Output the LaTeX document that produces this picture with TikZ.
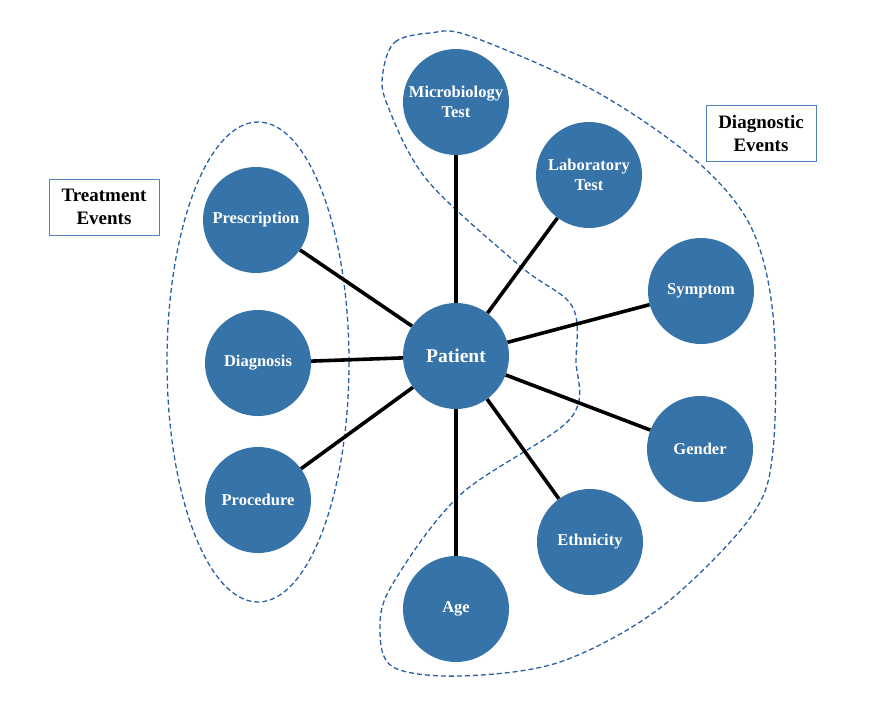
\documentclass[tikz,border=0pt]{standalone}
\usepackage{fontspec}
\setmainfont{Liberation Serif}
\definecolor{nodeblue}{RGB}{53,115,168}
\definecolor{dashblue}{RGB}{40,95,165}
\definecolor{boxblue}{RGB}{80,130,195}
\begin{document}
\begin{tikzpicture}[x=1pt,y=-1pt,
  ev/.style={circle,fill=nodeblue,minimum size=106pt,inner sep=0pt,text=white,font=\bfseries\fontsize{16.5}{20}\selectfont,align=center},
  link/.style={line width=3.6pt,black},
  grp/.style={dashblue,line width=1.3pt,dash pattern=on 5pt off 3pt},
  lbl/.style={draw=boxblue,line width=1pt,fill=white,font=\bfseries\fontsize{19}{23}\selectfont,align=center,minimum width=110pt,minimum height=56pt}]
\useasboundingbox (0,0) rectangle (884,707);
\draw[grp] (258,362) ellipse [x radius=91, y radius=240];
\draw[grp] plot[smooth cycle,tension=0.55] coordinates {(383,72) (395,42) (430,33) (470,36) (593,90) (693,158) (750,225) (773,315) (773,450) (750,518) (660,608) (560,662) (460,676) (393,667) (380,630) (392,585) (460,495) (570,419) (576,360) (572,306) (520,266) (427,180) (387,104)};
\node[ev,font=\bfseries\fontsize{19.5}{23}\selectfont] (pat) at (456,356) {Patient};
\node[ev] (mic) at (456,102) {Microbiology\\Test};
\node[ev] (lab) at (589,175) {Laboratory\\Test};
\node[ev] (sym) at (701,291) {Symptom};
\node[ev] (gen) at (700,449) {Gender};
\node[ev] (eth) at (590,542) {Ethnicity};
\node[ev] (age) at (456,609) {Age};
\node[ev] (pre) at (256,220) {Prescription};
\node[ev] (dia) at (258,363) {Diagnosis};
\node[ev] (pro) at (258,500) {Procedure};
\foreach \n in {mic,lab,sym,gen,eth,age,pre,dia,pro}
  \draw[link] (pat) -- (\n);
\node[lbl] (tre) at (104,207) {Treatment\\Events};
\node[lbl] (dge) at (761,133) {Diagnostic\\Events};
\end{tikzpicture}
\end{document}
